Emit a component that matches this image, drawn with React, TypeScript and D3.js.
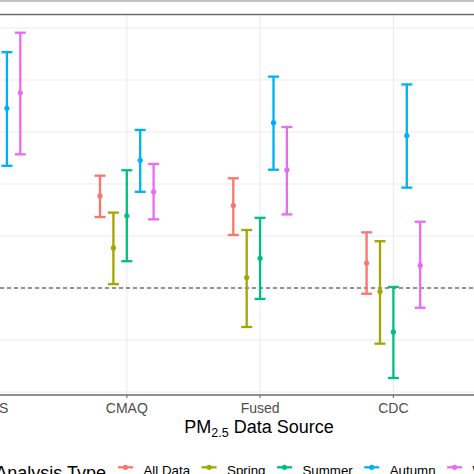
import React from "react";
import * as d3 from "d3";

// PM2.5 data sources on the x axis
const sources = ["AQS", "CMAQ", "Fused", "CDC", "Satellite"];

// Analysis types (series) and their colours
const seriesNames = ["All Data", "Spring", "Summer", "Autumn", "Winter"];
const seriesColors = ["#F8766D", "#A3A500", "#00BF7D", "#00B0F6", "#E76BF3"];

// Estimates with lower / upper interval bounds, one entry per source (AQS, CMAQ, Fused, CDC)
const allDataEst = [4.0, 3.54, 3.17, 0.96];
const allDataLow = [3.0, 2.73, 2.04, -0.22];
const allDataHigh = [5.0, 4.32, 4.22, 2.14];

const springEst = [2.5, 1.54, 0.4, -0.13];
const springLow = [1.0, 0.15, -1.5, -2.14];
const springHigh = [4.0, 2.9, 2.23, 1.8];

const summerEst = [3.0, 2.78, 1.14, -1.69];
const summerLow = [1.5, 1.03, -0.42, -3.46];
const summerHigh = [4.5, 4.53, 2.7, 0.04];

const autumnEst = [6.91, 4.91, 6.36, 5.86];
const autumnLow = [4.7, 3.7, 4.55, 3.86];
const autumnHigh = [9.07, 6.08, 8.13, 7.83];

const winterEst = [7.51, 3.7, 4.54, 0.87];
const winterLow = [5.14, 2.64, 2.83, -0.76];
const winterHigh = [9.82, 4.77, 6.19, 2.55];

const yGridValues = [-4, -2, 0, 2, 4, 6, 8, 10];
const referenceValue = 0;

const series = [
  { est: allDataEst, low: allDataLow, high: allDataHigh },
  { est: springEst, low: springLow, high: springHigh },
  { est: summerEst, low: summerLow, high: summerHigh },
  { est: autumnEst, low: autumnLow, high: autumnHigh },
  { est: winterEst, low: winterLow, high: winterHigh },
];

const W = 474;
const H = 474;
const FONT = "'Liberation Sans', Arial, sans-serif";

const panelTop = 15;
const panelBottom = 395;

function measure(text: string, size: number): number {
  const c = document.createElement("canvas").getContext("2d");
  if (!c) return text.length * size * 0.55;
  c.font = `${size}px ${FONT}`;
  return c.measureText(text).width;
}

export default function App() {
  const x = d3.scalePoint<string>().domain(sources).range([-6.5, -6.5 + 4 * 133.3]);
  const y = d3.scaleLinear().domain([-4.115, 10.5]).range([panelBottom, panelTop]);
  const dodge = 13.4;
  const capHalf = 5.5;

  // Legend layout: keys and labels laid out left to right
  const keyW = 15;
  const legendY = 467.3;
  const legendFont = 13.3;
  let cursor = 118;
  const legendItems = seriesNames.map((name, i) => {
    const kx = cursor;
    const tx = kx + keyW + 10.5;
    cursor = tx + measure(name, legendFont) + 11.5;
    return { name, color: seriesColors[i], kx, tx };
  });

  return (
    <svg
      width={W}
      height={H}
      style={{ position: "fixed", left: 0, top: 0, background: "#fff" }}
      fontFamily={FONT}
    >
      <rect x={0} y={0} width={W} height={H} fill="#fff" />
      <rect x={0} y={0} width={W} height={2} fill="#c4c4c4" />

      {/* grid */}
      {yGridValues.map((v) => (
        <line key={"h" + v} x1={0} x2={W} y1={y(v)} y2={y(v)} stroke="#ebebeb" strokeWidth={1.1} />
      ))}
      {sources.map((s) => (
        <line key={"v" + s} x1={x(s)} x2={x(s)} y1={panelTop} y2={panelBottom} stroke="#ebebeb" strokeWidth={1.1} />
      ))}

      {/* reference line */}
      <line
        x1={0}
        x2={W}
        y1={y(referenceValue)}
        y2={y(referenceValue)}
        stroke="#333"
        strokeWidth={1}
        strokeDasharray="4,3"
      />

      {/* error bars */}
      {series.map((s, si) =>
        s.est.map((e, ci) => {
          const cx = (x(sources[ci]) as number) + (si - 2) * dodge;
          const col = seriesColors[si];
          return (
            <g key={si + "-" + ci} stroke={col} strokeWidth={2.3}>
              <line x1={cx} x2={cx} y1={y(s.low[ci])} y2={y(s.high[ci])} />
              <line x1={cx - capHalf} x2={cx + capHalf} y1={y(s.low[ci])} y2={y(s.low[ci])} />
              <line x1={cx - capHalf} x2={cx + capHalf} y1={y(s.high[ci])} y2={y(s.high[ci])} />
              <circle cx={cx} cy={y(e)} r={2.6} fill={col} stroke="none" />
            </g>
          );
        })
      )}

      {/* panel border */}
      <line x1={0} x2={W} y1={panelTop - 0.5} y2={panelTop - 0.5} stroke="#6b6b6b" strokeWidth={1.7} />
      <line x1={0} x2={W} y1={panelBottom} y2={panelBottom} stroke="#6b6b6b" strokeWidth={1.7} />

      {/* x axis */}
      {sources.map((s) => (
        <g key={"t" + s}>
          <line x1={x(s)} x2={x(s)} y1={panelBottom} y2={panelBottom + 3} stroke="#6b6b6b" strokeWidth={1.1} />
          <text x={x(s)} y={413} textAnchor="middle" fontSize={14} fill="#4d4d4d">
            {s}
          </text>
        </g>
      ))}
      <text x={259} y={433} textAnchor="middle" fontSize={18} fill="#000">
        PM
        <tspan fontSize={12.5} dy={4}>
          2.5
        </tspan>
        <tspan dy={-4}> Data Source</tspan>
      </text>

      {/* legend */}
      <text x={106} y={479} textAnchor="end" fontSize={18} fill="#000">
        Analysis Type
      </text>
      {legendItems.map((it) => (
        <g key={it.name}>
          <line x1={it.kx} x2={it.kx + keyW} y1={legendY} y2={legendY} stroke={it.color} strokeWidth={2.3} />
          <circle cx={it.kx + keyW / 2} cy={legendY} r={2.6} fill={it.color} />
          <text x={it.tx} y={474.5} fontSize={legendFont} fill="#000">
            {it.name}
          </text>
        </g>
      ))}
    </svg>
  );
}
